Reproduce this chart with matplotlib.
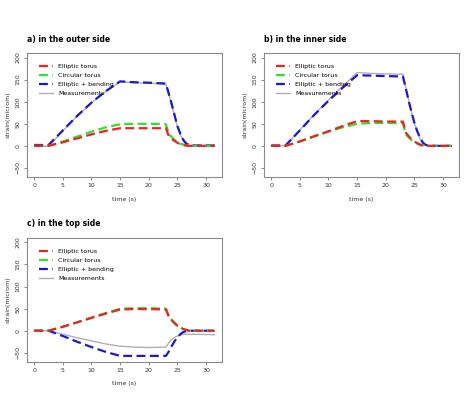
import numpy as np
import matplotlib.pyplot as plt

# time axis (s)
t = [0, 2.5, 5, 7.5, 10, 12.5, 15, 17.5, 20, 23, 23.5, 24, 24.5, 25, 25.5, 26, 26.5, 27, 28, 31.5]

# a) outer side
a_ell = [0, 0, 8, 17, 26, 34, 40, 40, 40, 40, 22, 16, 11, 7, 4, 2, 1, 0, 0, 0]
a_circ = [0, 0, 10, 21, 32, 42, 49, 50, 50, 49, 27, 20, 14, 9, 5, 3, 1, 0, 0, 0]
a_bend = [2, 2, 35, 68, 98, 124, 146, 144, 143, 141, 118, 95, 70, 45, 28, 14, 6, 2, 1, 1]
a_meas = [-1, -1, 34, 67, 97, 123, 145, 143, 142, 140, 116, 93, 68, 43, 26, 12, 4, 0, 0, 0]

# b) inner side
b_ell = [0, 0, 10, 22, 33, 45, 56, 56, 55, 55, 30, 22, 15, 10, 6, 3, 1, 0, 0, 0]
b_circ = [0, 0, 10, 21, 32, 42, 50, 52, 52, 51, 26, 19, 13, 8, 5, 2, 1, 0, 0, 0]
b_bend = [1, 1, 35, 70, 102, 132, 160, 159, 158, 157, 130, 102, 76, 52, 33, 18, 7, 2, 0, 0]
b_meas = [0, 0, 36, 71, 104, 135, 166, 164, 163, 162, 132, 103, 76, 51, 32, 16, 5, 1, 0, 0]

# c) top side
c_ell = [0, 0, 9, 19, 29, 39, 48, 49, 49, 48, 32, 24, 17, 11, 7, 4, 2, 0, 0, 0]
c_circ = [0, 0, 9, 19, 30, 40, 50, 51, 51, 50, 33, 25, 18, 12, 7, 4, 2, 0, 0, 0]
c_bend = [0, 0, -12, -25, -37, -48, -57, -57, -57, -57, -47, -35, -24, -15, -8, -3, -1, 0, 0, 0]
c_meas = [0, 0, -8, -16, -23, -30, -35, -37, -38, -37, -27, -20, -15, -12, -10, -8, -8, -8, -8, -9]

panels = [
    ("a) in the outer side", a_ell, a_circ, a_bend, a_meas, [0.057, 0.552, 0.411, 0.314]),
    ("b) in the inner side", b_ell, b_circ, b_bend, b_meas, [0.557, 0.552, 0.411, 0.314]),
    ("c) in the top side", c_ell, c_circ, c_bend, c_meas, [0.057, 0.084, 0.411, 0.314]),
]

fig = plt.figure(figsize=(4.74, 3.95), dpi=100)
box = '#8a8a8a'

for title, ell, circ, bend, meas, pos in panels:
    ax = fig.add_axes(pos)
    ax.plot(t, meas, color='#b0b0b0', lw=1.0, label='Measurements')
    ax.plot(t, bend, color='#1a1acc', lw=1.6, ls=(0, (4, 2)), label='Elliptic + bending')
    ax.plot(t, circ, color='#33dd33', lw=1.6, ls=(0, (4, 2)), label='Circular torus')
    ax.plot(t, ell, color='#ee2222', lw=1.6, ls=(0, (4, 2)), label='Elliptic torus')
    ax.set_xlim(-1.26, 32.76)
    ax.set_ylim(-70.4, 210.4)
    ax.set_xticks([0, 5, 10, 15, 20, 25, 30])
    ax.set_yticks([-50, 0, 50, 100, 150, 200])
    ax.tick_params(labelsize=4.5, length=2.5, width=0.5, color='#555555', labelcolor='#333333', pad=2)
    for lab in ax.get_yticklabels():
        lab.set_rotation(90)
        lab.set_va('center')
    for s in ax.spines.values():
        s.set_color(box)
        s.set_linewidth(0.8)
    ax.set_xlabel('time (s)', fontsize=4.5, color='#333333', labelpad=6)
    ax.set_ylabel('strain(microm)', fontsize=4.5, color='#333333', labelpad=4)
    ax.text(0.0, 1.075, title, transform=ax.transAxes, fontsize=5.5, fontweight='bold', va='bottom')
    h, l = ax.get_legend_handles_labels()
    order = [3, 2, 1, 0]
    ax.legend([h[i] for i in order], [l[i] for i in order], loc='upper left', frameon=False,
              fontsize=4.5, handlelength=2.2, handletextpad=0.8, labelspacing=0.55,
              borderaxespad=0.0, bbox_to_anchor=(0.05, 0.93))

fig.savefig('out.png', dpi=100)
